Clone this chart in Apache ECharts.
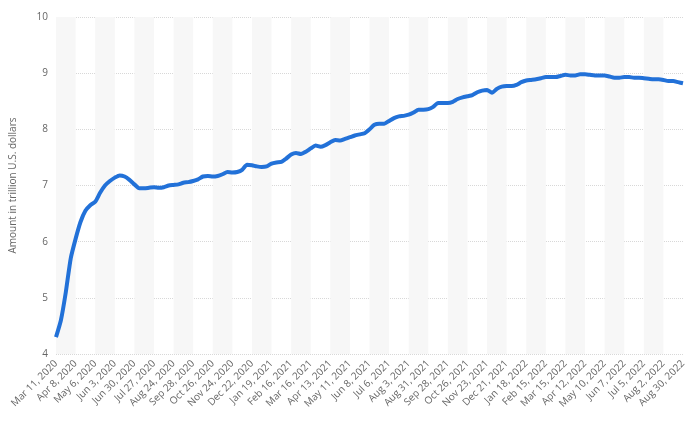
<!DOCTYPE html>
<html>
<head>
<meta charset="utf-8">
<script src="https://cdn.jsdelivr.net/npm/echarts@6/dist/echarts.min.js"></script>
<style>html,body{margin:0;padding:0;background:#fff}#chart{width:700px;height:429px}</style>
</head>
<body>
<div id="chart"></div>
<script>
// tick labels, one every 4 weekly points
const tickLabels = ['Mar 11, 2020','Apr 8, 2020','May 6, 2020','Jun 3, 2020','Jun 30, 2020','Jul 27, 2020',
  'Aug 24, 2020','Sep 28, 2020','Oct 26, 2020','Nov 24, 2020','Dec 22, 2020','Jan 19, 2021','Feb 16, 2021',
  'Mar 16, 2021','Apr 13, 2021','May 11, 2021','Jun 8, 2021','Jul 6, 2021','Aug 3, 2021','Aug 31, 2021',
  'Sep 28, 2021','Oct 26, 2021','Nov 23, 2021','Dec 21, 2021','Jan 18, 2022','Feb 15, 2022','Mar 15, 2022',
  'Apr 12, 2022','May 10, 2022','Jun 7, 2022','Jul 5, 2022','Aug 2, 2022','Aug 30, 2022'];

const values = [4.3,4.6,5.1,5.7,6.05,6.35,6.55,6.65,6.71,6.87,7.0,7.08,7.14,7.18,7.16,7.1,7.02,6.95,6.95,6.96,
  6.97,6.96,6.97,7.0,7.01,7.02,7.05,7.06,7.08,7.11,7.16,7.17,7.16,7.17,7.2,7.24,7.23,7.24,7.28,7.37,
  7.36,7.34,7.33,7.34,7.39,7.41,7.42,7.48,7.55,7.58,7.56,7.6,7.66,7.71,7.69,7.72,7.77,7.81,7.8,7.83,
  7.86,7.89,7.91,7.93,8.0,8.08,8.1,8.1,8.15,8.2,8.23,8.24,8.26,8.3,8.35,8.35,8.36,8.4,8.47,8.47,
  8.47,8.49,8.54,8.57,8.59,8.61,8.66,8.69,8.7,8.65,8.72,8.76,8.77,8.77,8.79,8.84,8.87,8.88,8.89,8.91,
  8.93,8.93,8.93,8.95,8.97,8.96,8.96,8.98,8.98,8.97,8.96,8.96,8.96,8.94,8.92,8.92,8.93,8.93,8.92,8.92,
  8.91,8.9,8.89,8.89,8.88,8.86,8.86,8.84,8.82];

const categories = values.map((v, i) => String(i));

const chart = echarts.init(document.getElementById('chart'));
chart.setOption({
  animation: false,
  grid: { left: 55, right: 17, top: 17, bottom: 75 },
  xAxis: {
    type: 'category',
    boundaryGap: false,
    data: categories,
    axisLine: { show: false },
    axisTick: { show: false },
    axisLabel: {
      interval: 3,
      rotate: 45,
      fontSize: 10,
      color: '#666',
      fontFamily: 'Open Sans',
      formatter: (v, i) => tickLabels[i / 4] || ''
    },
    splitArea: { show: true, interval: 3, areaStyle: { color: ['#f7f7f7', 'rgba(0,0,0,0)'] } }
  },
  yAxis: {
    type: 'value',
    min: 4,
    max: 10,
    interval: 1,
    name: 'Amount in trillion U.S. dollars',
    nameLocation: 'middle',
    nameGap: 38,
    nameTextStyle: { fontSize: 10, color: '#666', fontFamily: 'Open Sans' },
    axisLabel: { fontSize: 10, color: '#666', fontFamily: 'Open Sans' },
    splitLine: { lineStyle: { color: '#d8d8d8', type: 'dotted' } }
  },
  series: [{
    type: 'line',
    data: values,
    showSymbol: false,
    smooth: 0.2,
    lineStyle: { color: '#2271d8', width: 4 },
    itemStyle: { color: '#2271d8' }
  }]
});
</script>
</body>
</html>
